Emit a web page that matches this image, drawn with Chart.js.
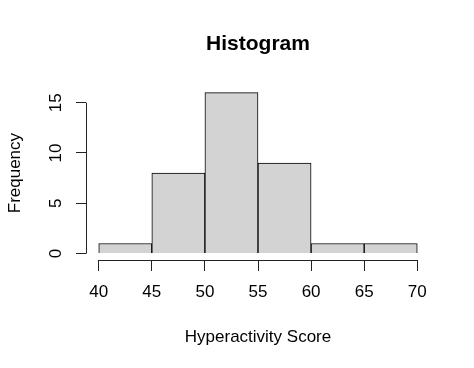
<!DOCTYPE html>
<html>
<head>
<meta charset="utf-8">
<script src="https://cdn.jsdelivr.net/npm/chart.js@4.4.1/dist/chart.umd.min.js"></script>
<style>
  body { margin: 0; background: #fff; }
</style>
</head>
<body>
<canvas id="mycanvas" width="474" height="368"></canvas>
<script>
// histogram bins (lower edges), width and counts
var binStarts = [40, 45, 50, 55, 60, 65];
var binWidth = 5;
var counts = [1, 8, 16, 9, 1, 1];
var xTicks = [40, 45, 50, 55, 60, 65, 70];
var yTicks = [0, 5, 10, 15];

var points = [];
for (var i in binStarts) {
	points.push({x: binStarts[i] + binWidth / 2, y: counts[i]});
}

var font = "'Liberation Sans', Arial, sans-serif";

// R style axes: line only spans first..last tick
var rAxes = {
	id: 'rAxes',
	afterDraw: function(chart) {
		var ctx = chart.ctx, area = chart.chartArea;
		var x = chart.scales.x, y = chart.scales.y;
		ctx.save();
		ctx.strokeStyle = '#222';
		ctx.lineWidth = 1;
		ctx.beginPath();
		var yb = Math.round(area.bottom) + 0.5;
		ctx.moveTo(x.getPixelForValue(xTicks[0]), yb);
		ctx.lineTo(x.getPixelForValue(xTicks[xTicks.length - 1]), yb);
		var xl = Math.round(area.left) + 0.5;
		ctx.moveTo(xl, y.getPixelForValue(yTicks[0]));
		ctx.lineTo(xl, y.getPixelForValue(yTicks[yTicks.length - 1]));
		ctx.stroke();
		ctx.restore();
	}
};

var ctx = document.getElementById('mycanvas');
var chart = new Chart(ctx, {
	type: 'bar',
	data: {
		datasets: [{
			data: points,
			backgroundColor: '#d3d3d3',
			borderColor: '#000',
			borderWidth: 1,
			barPercentage: 1,
			categoryPercentage: 1
		}]
	},
	options: {
		responsive: false,
		animation: false,
		layout: { padding: { left: 0, right: 44, top: 0, bottom: 0 } },
		plugins: {
			legend: { display: false },
			tooltip: { enabled: false },
			title: {
				display: true,
				fullSize: false,
				text: 'Histogram',
				color: '#000',
				font: { family: font, size: 21, weight: 'bold' },
				padding: { top: 32, bottom: 29 }
			}
		},
		scales: {
			x: {
				type: 'linear',
				min: 38.8,
				max: 71.2,
				offset: false,
				afterBuildTicks: function(s) { s.ticks = xTicks.map(function(v) { return {value: v}; }); },
				afterFit: function(s) { s.height = 108; },
				border: { display: false },
				grid: { offset: false, drawOnChartArea: false, drawTicks: true, tickLength: 11, color: '#222' },
				ticks: { color: '#000', padding: 11, maxRotation: 0, font: { family: font, size: 17 } },
				title: { display: true, text: 'Hyperactivity Score', color: '#000', font: { family: font, size: 17 }, padding: { top: 0, bottom: 20 } }
			},
			y: {
				min: -0.64,
				max: 16.64,
				afterBuildTicks: function(s) { s.ticks = yTicks.map(function(v) { return {value: v}; }); },
				afterFit: function(s) { s.width = 86; },
				border: { display: false },
				grid: { drawOnChartArea: false, drawTicks: true, tickLength: 10, color: '#222' },
				ticks: { color: '#000', padding: 10, crossAlign: 'center', minRotation: 90, maxRotation: 90, font: { family: font, size: 17 } },
				title: { display: true, text: 'Frequency', color: '#000', font: { family: font, size: 17 }, padding: { top: 5, bottom: 0 } }
			}
		}
	},
	plugins: [rAxes]
});
</script>
</body>
</html>
